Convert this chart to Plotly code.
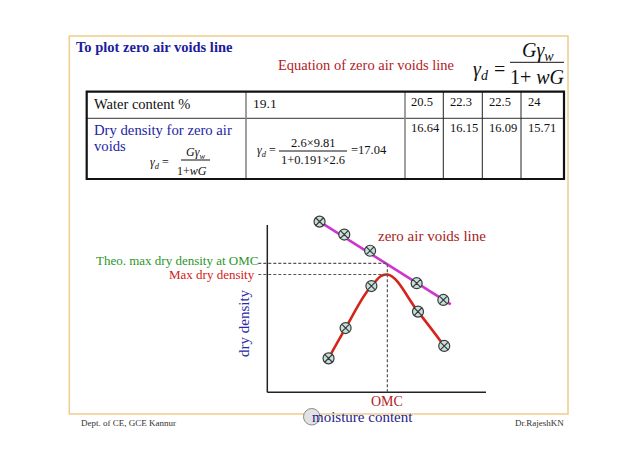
import plotly.graph_objects as go

# ---------------- data ----------------
water_content = [19.1, 20.5, 22.3, 22.5, 24]          # %
zav_density = [17.04, 16.64, 16.15, 16.09, 15.71]     # kN/m3
G = 2.6
gamma_w = 9.81

# schematic compaction chart (arbitrary units 0..100)
zav_moisture = [23.9, 35.2, 47.0, 68.3, 80.5]
zav_dry = [102.0, 94.3, 84.6, 65.2, 55.2]
zav_line_moisture = [23.9, 83.9]
zav_line_dry = [102.0, 52.6]

comp_moisture = [28.0, 35.8, 47.6, 68.9, 80.9]
comp_dry = [20.3, 38.4, 63.5, 48.2, 27.7]
omc = 54.9
max_dry = 70.4
theo_max_dry = 77.1

# ---------------- geometry helpers ----------------
W, H = 638, 452
SERIF = "Liberation Serif"


def px(x):
    return x / W


def py(y):
    return 1 - y / H


# axis pixel calibration: x=0 -> 267.3px, x=100 -> 486px ; y=0 -> 392.3px, y=100 -> 225px
X0, X100 = 267.3, 486.0
Y0, Y100 = 392.3, 225.0
box_l, box_r, box_t, box_b = 250, 495, 212, 400
sx = (X100 - X0) / 100
sy = (Y0 - Y100) / 100
x_range = [(box_l - X0) / sx, (box_r - X0) / sx]
y_range = [(Y0 - box_b) / sy, (Y0 - box_t) / sy]

fig = go.Figure()

# zero air voids line
fig.add_trace(go.Scatter(x=zav_line_moisture, y=zav_line_dry, mode="lines",
                         line=dict(color="#cc35d0", width=2.6), hoverinfo="skip",
                         showlegend=False))
# compaction curve through peak
curve_x = comp_moisture[:3] + [omc] + comp_moisture[3:]
curve_y = comp_dry[:3] + [max_dry] + comp_dry[3:]
fig.add_trace(go.Scatter(x=curve_x, y=curve_y, mode="lines",
                         line=dict(color="#d4251a", width=2.6, shape="spline", smoothing=1.15),
                         hoverinfo="skip", showlegend=False))
marker_style = dict(symbol="circle-x", size=11, color="#c6e0dc",
                    line=dict(color="#3a3a3a", width=1.2))
fig.add_trace(go.Scatter(x=zav_moisture, y=zav_dry, mode="markers", marker=marker_style,
                         cliponaxis=False, showlegend=False))
fig.add_trace(go.Scatter(x=comp_moisture, y=comp_dry, mode="markers", marker=marker_style,
                         cliponaxis=False, showlegend=False))

shapes = []
# axes drawn as lines
shapes.append(dict(type="line", xref="x", yref="y", x0=0, y0=0, x1=100, y1=0,
                   line=dict(color="#222", width=1.5)))
shapes.append(dict(type="line", xref="x", yref="y", x0=0, y0=0, x1=0, y1=100,
                   line=dict(color="#222", width=1.5)))
# dashed guides
dash_left = (258.3 - X0) / sx
guide = dict(color="#555", width=1.2, dash="3px,2px")
shapes.append(dict(type="line", xref="x", yref="y", x0=dash_left, y0=theo_max_dry, x1=omc, y1=theo_max_dry,
                   line=guide))
shapes.append(dict(type="line", xref="x", yref="y", x0=dash_left, y0=max_dry, x1=omc, y1=max_dry,
                   line=guide))
shapes.append(dict(type="line", xref="x", yref="y", x0=omc, y0=0, x1=omc, y1=theo_max_dry,
                   line=guide))

# slide border
shapes.append(dict(type="rect", xref="paper", yref="paper", x0=px(69.3), x1=px(568), y0=py(414), y1=py(36),
                   line=dict(color="#efcd8c", width=1.5), layer="below"))
# logo
shapes.append(dict(type="circle", xref="paper", yref="paper", x0=px(303.5), x1=px(320), y0=py(425), y1=py(408.5),
                   fillcolor="#e2e2e2", line=dict(color="#8a8a8a", width=1), layer="below"))

# table lines
T_L, T_R, T_T, T_B, T_MID = 86.7, 564, 91.7, 179, 118.3
col_x = [246, 405, 443.3, 482.3, 521]
shapes.append(dict(type="line", xref="paper", yref="paper", x0=px(T_L), x1=px(T_R), y0=py(T_MID), y1=py(T_MID),
                   line=dict(color="#333", width=1)))
for i, cx in enumerate(col_x):
    grey = i < 2
    shapes.append(dict(type="line", xref="paper", yref="paper", x0=px(cx), x1=px(cx), y0=py(T_T), y1=py(T_B),
                       line=dict(color="#888" if grey else "#222", width=1.6 if grey else 1)))
shapes.append(dict(type="rect", xref="paper", yref="paper", x0=px(T_L), x1=px(T_R), y0=py(T_B), y1=py(T_T),
                   line=dict(color="#111", width=2.2)))
# fraction bars
for (a, b, y) in [(510, 564, 62.3), (181, 210, 160), (279, 347, 151)]:
    shapes.append(dict(type="line", xref="paper", yref="paper", x0=px(a), x1=px(b), y0=py(y), y1=py(y),
                       line=dict(color="#111", width=1)))

ann = []


def ptext(text, x, y, size, color="#111", xanchor="left", bold=False, textangle=0):
    if bold:
        text = "<b>" + text + "</b>"
    ann.append(dict(text=text, x=px(x), y=py(y), xref="paper", yref="paper", xanchor=xanchor,
                    yanchor="middle", showarrow=False, textangle=textangle,
                    font=dict(family=SERIF, size=size, color=color)))


def dtext(text, x, y, size, color, xanchor="left", textangle=0):
    ann.append(dict(text=text, x=x, y=y, xref="x", yref="y", xanchor=xanchor, yanchor="middle",
                    showarrow=False, textangle=textangle, font=dict(family=SERIF, size=size, color=color)))


# header
ptext("To plot zero air voids line", 74, 47, 14.5, "#1c1c9c", bold=True)
ptext("Equation of zero air voids line", 456, 64.5, 14.5, "#b3201e", xanchor="right")
ptext("<i>γ</i><sub><i>d</i></sub>", 481, 70, 20, "#111", xanchor="center")
ptext("=", 499, 69, 20, "#111", xanchor="center")
ptext("<i>Gγ</i><sub><i>w</i></sub>", 538, 51.7, 20, "#111", xanchor="center")
ptext("1+ <i>wG</i>", 537, 76.7, 20, "#111", xanchor="center")

# table text
ptext("Water content %", 92, 103.5, 14.5, "#111")
ptext(f"{water_content[0]}", 250.5, 103.5, 13.5, "#111")
val_x = [409, 448, 487, 526]
for vx, w, d in zip(val_x, water_content[1:], zav_density[1:]):
    ptext(f"{w:g}", vx, 102, 12.5, "#111")
    ptext(f"{d:.2f}", vx, 128, 12.5, "#111")
ptext("Dry density for zero air", 92, 130, 14.7, "#2424a4")
ptext("voids", 92, 146, 14.7, "#2424a4")
ptext("<i>γ</i><sub><i>d</i></sub> =", 160, 162.7, 12, "#111", xanchor="center")
ptext("<i>Gγ</i><sub><i>w</i></sub>", 195.5, 152.5, 12, "#111", xanchor="center")
ptext("1+<i>wG</i>", 191.5, 170.5, 12, "#111", xanchor="center")
ptext("<i>γ</i><sub><i>d</i></sub> =", 266, 150.5, 12, "#111", xanchor="center")
ptext(f"{G}×{gamma_w}", 313.3, 143, 12.5, "#111", xanchor="center")
ptext(f"1+{water_content[0] / 100:.3f}×{G}", 313.3, 160, 12.5, "#111", xanchor="center")
ptext(f"={zav_density[0]:.2f}", 348.5, 150, 12.5, "#111")

# chart labels
dtext("zero air voids line", (376 - X0) / sx, (Y0 - 236) / sy, 15, "#a81c1c")
dtext("Theo. max dry density at OMC", (259.5 - X0) / sx, theo_max_dry + 1.4, 13, "#2c962c", xanchor="right")
dtext("Max dry density", (256.5 - X0) / sx, max_dry + 0.3, 13, "#d42020", xanchor="right")
ptext("dry density", 244, 323, 15, "#2a2aa8", xanchor="center", textangle=-90)
ptext("OMC", 386.7, 401, 14, "#b3201e", xanchor="center")
ptext("moisture content", 362.5, 416.8, 15, "#1e1e8c", xanchor="center")

# footer
ptext("Dept. of CE, GCE Kannur", 79, 423, 9, "#333")
ptext("Dr.RajeshKN", 565.5, 423, 9, "#333", xanchor="right")

fig.update_layout(
    width=W, height=H, margin=dict(l=0, r=0, t=0, b=0),
    paper_bgcolor="white", plot_bgcolor="rgba(0,0,0,0)",
    xaxis=dict(domain=[px(box_l), px(box_r)], range=x_range, visible=False, fixedrange=True),
    yaxis=dict(domain=[py(box_b), py(box_t)], range=y_range, visible=False, fixedrange=True),
    shapes=shapes, annotations=ann, showlegend=False,
    font=dict(family=SERIF),
)

fig.write_html("out.html", config=dict(displayModeBar=False),
               post_script="document.body.style.margin='0px';")
